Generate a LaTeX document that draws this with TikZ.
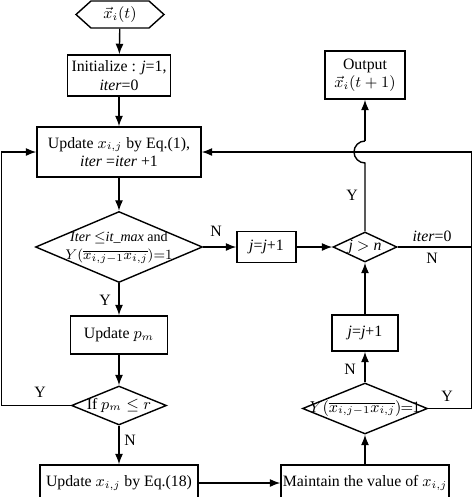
\documentclass[tikz,border=0pt]{standalone}
\usepackage{amsmath}
\usepackage{amssymb}
\usepackage{fontspec}
\setmainfont{Liberation Serif}
\usepackage{tikz}
\usetikzlibrary{shapes.geometric,shapes.symbols,arrows,arrows.meta,calc,positioning}
\newcommand{\dtext}[1]{\smash{\makebox[0pt]{\raisebox{-0.25em}{\begin{tabular}{@{}c@{}}#1\end{tabular}}}}}
\renewcommand{\arraystretch}{0.95}

\begin{document}
\begin{tikzpicture}[x=0.02cm, y=-0.02cm, line width=0.8pt, font=\fontsize{9}{10.5}\selectfont, >={Latex[length=6pt, width=4.6pt]}]
	\tikzstyle{every node} = [draw = black, align = center, inner sep = 1pt]
	\tikzstyle{box} = [rectangle]
	\tikzstyle{decision} = [diamond, inner sep = 0pt]
	\tikzstyle{lbl} = [draw = none]
\useasboundingbox (0,0) rectangle (474,497);
\clip (0,0) rectangle (474,497);
% left column
\node[signal, signal to = east and west, signal pointer angle = 84, minimum width = 1.76cm, minimum height = 0.54cm, inner sep = 0pt] (1) at (120,14.5) {$\vec{x}_i(t)$};
\node[box, minimum width = 2.06cm, minimum height = 0.82cm] (2) at (119,75.5) {Initialize : \textit{j}=1,\\ \textit{iter}=0};
\node[box, minimum width = 3.28cm, minimum height = 1.0cm] (3) at (119,152) {Update $x_{i,j}$ by Eq.(1),\\ \textit{iter} =\textit{iter} +1};
\node[decision, minimum width = 3.34cm, minimum height = 1.42cm] (4) at (119,247) {\dtext{\fontsize{8}{9.5}\selectfont\textit{Iter} $\leq$\textit{it\_max} and\\ \fontsize{8}{9.5}\selectfont$Y(\overline{x_{i,j-1}x_{i,j}}){=}1$}};
\node[box, minimum width = 1.94cm, minimum height = 0.76cm] (8) at (119,335) {Update $p_m$};
\node[decision, minimum width = 1.9cm, minimum height = 0.78cm] (9) at (119,405.5) {\dtext{If $p_m \leq r$}};
\node[box, minimum width = 3.16cm, minimum height = 0.72cm] (10) at (119,483) {Update $x_{i,j}$ by Eq.(18)};
% right column
\node[box, minimum width = 1.18cm, minimum height = 0.62cm] (5) at (266.5,247) {\textit{j}=\textit{j}+1};
\node[decision, minimum width = 1.28cm, minimum height = 0.6cm] (6) at (365,247) {\dtext{\textit{j} $>$ \textit{n}}};
\node[box, minimum width = 1.6cm, minimum height = 0.96cm] (7) at (365,75) {Output\\ $\vec{x}_i(t+1)$};
\node[box, minimum width = 1.32cm, minimum height = 0.72cm] (13) at (365,333) {\textit{j}=\textit{j}+1};
\node[decision, minimum width = 2.5cm, minimum height = 1.02cm] (12) at (365,408.5) {\dtext{$Y(\overline{x_{i,j-1}x_{i,j}})\mkern-1mu{=}\mkern-1mu1$}};
\node[box, minimum width = 3.36cm, minimum height = 0.72cm] (11) at (365,483) {Maintain the value of $x_{i,j}$};
\coordinate (r) at (471.5,152);
\coordinate (l) at (1.5,152);
\coordinate (jb) at (365,163);
\coordinate (jt) at (365,141);
	\path[draw, ->] (1) -- (2);
	\path[draw, ->] (2) -- (3);
	\path[draw, ->] (3) -- (4);
	\path[draw, ->] (4) -- (8);
	\path[draw, ->] (8) -- (9);
	\path[draw, ->] (9) -- (10);
	\path[draw, ->] (10) -- (11);
	\path[draw, ->] (11) -- (12);
	\path[draw, ->] (12) -- (13);
	\path[draw, ->] (13) -- (6);
	\path[draw, ->] (4) -- (5);
	\path[draw, ->] (5) -- (6);
	% jump over the loop line
	\path[draw] (6.north) -- (jb) arc[start angle = 270, end angle = 90, radius = 0.22cm];
	\path[draw, ->] (jt) -- (7.south);
	\path[draw] (6.east) -- (6.east -| r);
	\path[draw, ->] (12.east) -| (r) -- (3.east);
	\path[draw, ->] (9.west) -| (l) -- (3.west);
\node[lbl] at (216,231) {N};
\node[lbl] at (352,195) {Y};
\node[lbl] at (432,236) {\textit{iter}=0};
\node[lbl] at (432,258) {N};
\node[lbl] at (350,369) {N};
\node[lbl] at (447,396) {Y};
\node[lbl] at (105,300) {Y};
\node[lbl] at (40,392) {Y};
\node[lbl] at (130,440) {N};
\end{tikzpicture}
\end{document}
